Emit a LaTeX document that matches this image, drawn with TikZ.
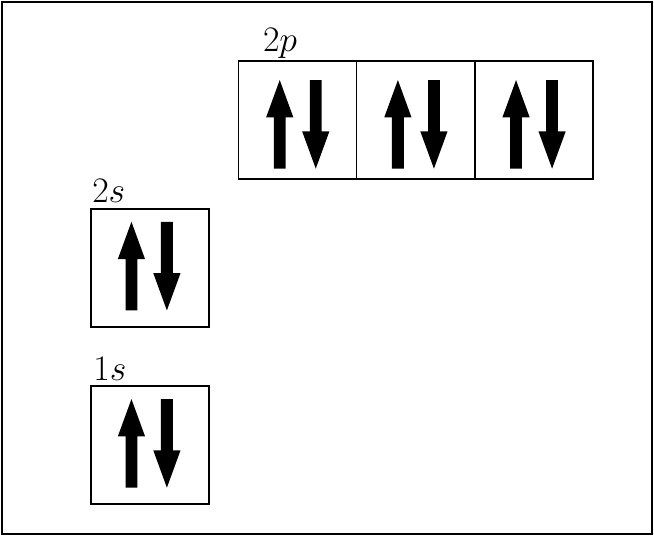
\documentclass[tikz,border=0pt]{standalone}
\usepackage{tikz}
\usetikzlibrary{positioning}
\tikzset{orbbox/.style={draw, line width=0.8pt, minimum size=2cm, inner sep=0pt, outer sep=0pt}}
\tikzset{orblabel/.style={anchor=base west, inner sep=0pt, font=\fontsize{16}{19}\selectfont}}
\tikzset{upspin/.pic={\fill (-0.1,0) -- (-0.1,0.87) -- (-0.23,0.87) -- (0,1.5) -- (0.23,0.87) -- (0.1,0.87) -- (0.1,0) -- cycle;}}
\tikzset{downspin/.pic={\fill (-0.1,0) -- (-0.1,-0.87) -- (-0.23,-0.87) -- (0,-1.5) -- (0.23,-0.87) -- (0.1,-0.87) -- (0.1,0) -- cycle;}}

\begin{document}
\begin{tikzpicture}
	\useasboundingbox (-0.035,-0.035) rectangle (11.035,9.035);
	\draw[line width=0.8pt] (0,0) rectangle (11,9);
	% 2p
	\node[orbbox] (P1) at (5,7) {};
	\node[orbbox, right=0 of P1] (P2) {};
	\node[orbbox, right=0 of P2] (P3) {};
	\node[orblabel] (L2p) at (4.41,8.17) {$2p$};
	% 2s and 1s
	\node[orbbox] (S2) at (2.5,4.5) {};
	\node[orbbox] (S1) at (2.5,1.5) {};
	\node[orblabel] (L2s) at (1.52,5.61) {$2s$};
	\node[orblabel] (L1s) at (1.54,2.59) {$1s$};
	% spins
	\foreach \b in {P1,P2,P3}{
		\pic at ([shift={(0.7,0.18)}]\b.south west) {upspin};
		\pic at ([shift={(1.31,1.68)}]\b.south west) {downspin};
	}
	\foreach \b in {S2,S1}{
		\pic at ([shift={(0.69,0.28)}]\b.south west) {upspin};
		\pic at ([shift={(1.29,1.78)}]\b.south west) {downspin};
	}
\end{tikzpicture}
\end{document}
